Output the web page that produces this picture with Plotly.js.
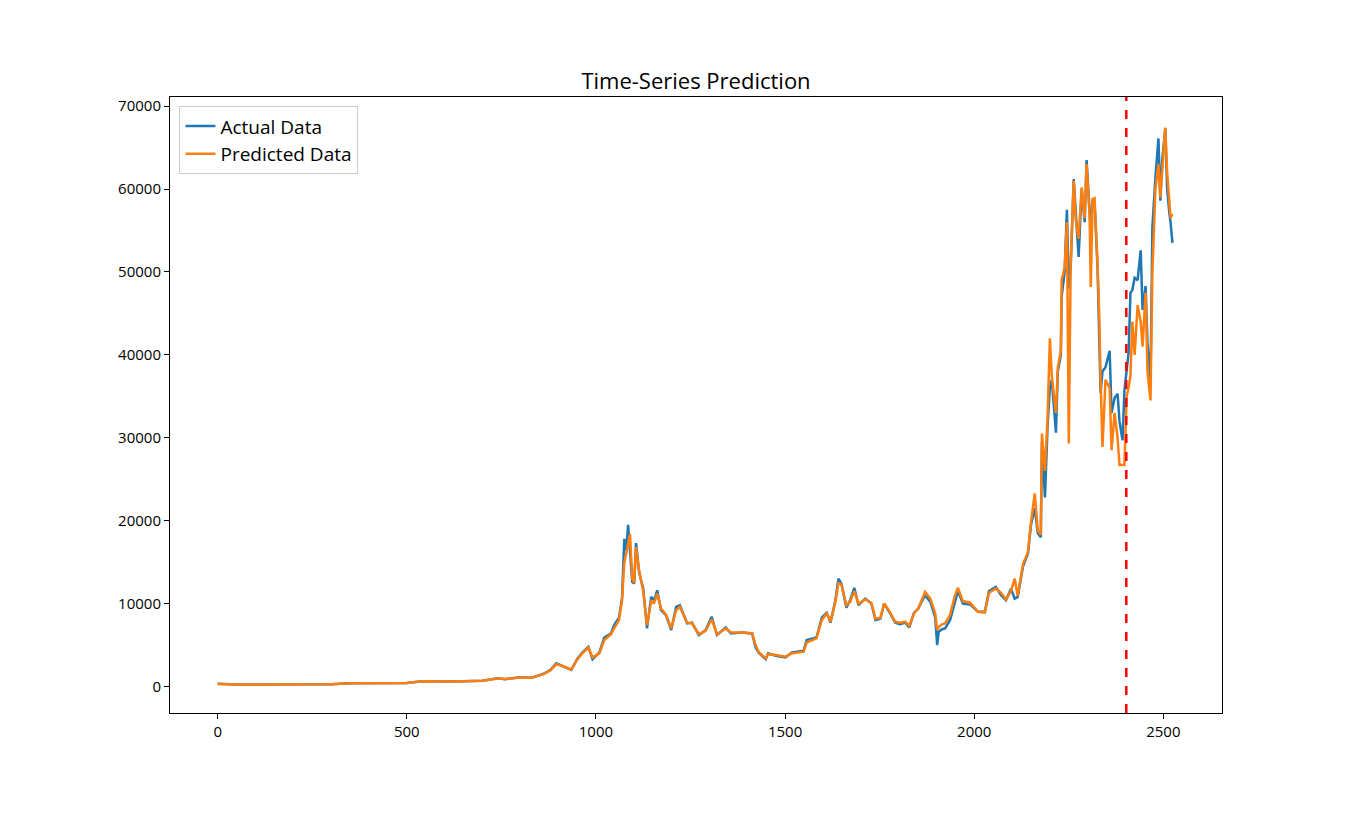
<!DOCTYPE html>
<html>
<head>
<meta charset="utf-8">
<script src="https://cdn.plot.ly/plotly-3.0.1.min.js"></script>
<style>
	html, body {margin:0; padding:0; background:#fff;}
	#plotDiv {width:1358px; height:815px;}
</style>
</head>
<body>
<div id="plotDiv"></div>
<script>
// day index
const dayIdx = [
	0, 25, 50, 100, 150, 200, 250, 300, 350, 400, 450, 500, 540, 560, 600, 650, 700, 740, 760, 800,
	830, 860, 880, 895, 910, 935, 950, 964, 980, 991, 1009, 1022, 1040, 1048, 1061, 1069, 1075, 1080, 1085, 1090,
	1096, 1101, 1106, 1114, 1125, 1135, 1146, 1154, 1162, 1172, 1185, 1199, 1212, 1222, 1241, 1254, 1272, 1290, 1306, 1320,
	1343, 1357, 1386, 1413, 1422, 1431, 1449, 1455, 1475, 1501, 1518, 1549, 1557, 1583, 1597, 1610, 1620, 1633, 1641, 1649,
	1662, 1672, 1683, 1694, 1712, 1728, 1739, 1752, 1762, 1778, 1791, 1804, 1818, 1828, 1841, 1852, 1870, 1884, 1897, 1902,
	1906, 1915, 1923, 1936, 1949, 1957, 1970, 1989, 2010, 2028, 2039, 2057, 2071, 2084, 2097, 2107, 2115, 2129, 2142, 2150, 2160,
	2168, 2176, 2179, 2187, 2194, 2200, 2205, 2216, 2221, 2229, 2231, 2239, 2245, 2250, 2255, 2263, 2268, 2276, 2284, 2292,
	2297, 2305, 2308, 2313, 2318, 2326, 2331, 2334, 2339, 2347, 2358, 2363, 2371, 2379, 2384, 2392, 2397, 2403, 2408, 2413,
	2418, 2424, 2432, 2440, 2445, 2453, 2458, 2466, 2471, 2479, 2487, 2492, 2497, 2505, 2510, 2516, 2519, 2524
]

const actual = [
	320, 260, 230, 240, 245, 250, 240, 280, 400, 420, 410, 430, 640, 600, 600, 640, 700, 980, 880, 1100,
	1050, 1500, 2000, 2800, 2500, 2000, 3300, 4100, 4800, 3300, 4100, 5900, 6400, 7400, 8300, 10700, 17800, 16400, 19500, 16000,
	12600, 12400, 17300, 13800, 11800, 7000, 10800, 10400, 11600, 9200, 8600, 6800, 9600, 9800, 7600, 7700, 6200, 6800, 8400, 6200,
	7100, 6400, 6500, 6400, 4700, 4000, 3300, 4000, 3700, 3500, 4100, 4300, 5600, 5900, 8300, 8900, 7700, 10400, 13000, 12400,
	9500, 10400, 11900, 9800, 10600, 10000, 8000, 8200, 10000, 8800, 7700, 7500, 7700, 7100, 8900, 9400, 11000, 10200, 8300, 5000,
	6600, 6900, 7000, 8000, 10300, 11500, 10000, 9900, 9000, 9000, 11500, 12000, 11000, 10400, 11800, 10600, 10800, 14500, 16000, 19500, 21500,
	18500, 18000, 29500, 22800, 31500, 36000, 37000, 30600, 38000, 40000, 47000, 50000, 57500, 48000, 50500, 61200, 57000, 51800, 60000, 56000,
	63500, 57500, 55000, 58600, 58500, 50500, 39300, 35400, 38000, 38500, 40500, 33000, 34800, 35300, 32000, 29700, 35700, 38000, 40200, 47500,
	47800, 49300, 49000, 52600, 45400, 48300, 41400, 37000, 55400, 61400, 66100, 58600, 63500, 67300, 60000, 57000, 56000, 53500
]

const predicted = [
	310, 265, 235, 240, 245, 250, 240, 280, 400, 420, 410, 430, 630, 600, 600, 640, 700, 960, 890, 1090,
	1060, 1450, 1950, 2700, 2500, 2050, 3200, 4000, 4700, 3500, 4000, 5600, 6300, 7000, 8000, 10400, 15000, 16000, 17000, 18400,
	13000, 12500, 16800, 14000, 11500, 7400, 10300, 10100, 11200, 9400, 8700, 7000, 9200, 9600, 7700, 7600, 6300, 6700, 8100, 6300,
	7000, 6500, 6500, 6400, 5000, 4100, 3400, 3900, 3800, 3600, 4000, 4200, 5300, 5800, 8000, 8800, 7800, 10200, 12500, 12300,
	9800, 10200, 11500, 10000, 10500, 10100, 8200, 8300, 10000, 8900, 7800, 7700, 7800, 7300, 8800, 9400, 11400, 10600, 8800, 6800,
	7200, 7500, 7600, 8600, 11000, 11900, 10300, 10100, 9000, 8900, 11300, 11800, 11300, 10500, 11500, 13000, 10900, 14800, 16200, 19800, 23300,
	18800, 18300, 30500, 26000, 32500, 42000, 37500, 33000, 38500, 40500, 49000, 50500, 56000, 29300, 51000, 61000, 56500, 54000, 60200, 56500,
	63000, 56800, 48200, 58800, 58900, 51000, 44000, 37000, 28900, 37000, 36000, 28500, 33000, 30000, 26700, 26700, 26700, 35000, 36000, 37500,
	44000, 40000, 46000, 44000, 41000, 47500, 38000, 34500, 50000, 60000, 63000, 59000, 62000, 67400, 62000, 58000, 56500, 57000
]

const splitIndex = 2402
const xTicks = [0, 500, 1000, 1500, 2000, 2500]
const yTicks = [0, 10000, 20000, 30000, 40000, 50000, 60000, 70000]

const font = {family: 'Open Sans, DejaVu Sans, sans-serif', size: 15, color: '#000'}

const data = [
	{
		name: 'Actual Data',
		x: dayIdx,
		y: actual,
		type: 'scatter',
		mode: 'lines',
		line: {color: '#1f77b4', width: 2.5}
	},
	{
		name: 'Predicted Data',
		x: dayIdx,
		y: predicted,
		type: 'scatter',
		mode: 'lines',
		line: {color: '#ff7f0e', width: 2.5}
	}
]

const axisStyle = {
	showgrid: false,
	zeroline: false,
	showline: true,
	linecolor: '#000',
	linewidth: 1,
	mirror: true,
	ticks: 'outside',
	ticklen: 5,
	tickwidth: 1,
	tickcolor: '#000',
	tickfont: font
}

const layout = {
	width: 1358,
	height: 815,
	paper_bgcolor: '#fff',
	plot_bgcolor: '#fff',
	font: font,
	margin: {l: 170, r: 136, t: 97, b: 102},
	title: {
		text: 'Time-Series Prediction',
		font: {family: font.family, size: 22, color: '#000'},
		x: 0.5, xref: 'paper', xanchor: 'center',
		y: 1, yref: 'paper', yanchor: 'bottom', pad: {b: 8}
	},
	xaxis: Object.assign({}, axisStyle, {
		range: [-126, 2655],
		tickvals: xTicks,
		ticktext: xTicks.map(String)
	}),
	yaxis: Object.assign({}, axisStyle, {
		range: [-3200, 71100],
		tickvals: yTicks,
		ticktext: yTicks.map(String)
	}),
	shapes: [{
		type: 'line',
		xref: 'x', yref: 'paper',
		x0: splitIndex, x1: splitIndex, y0: 0, y1: 1,
		line: {color: '#ff0000', width: 2.5, dash: 'dash'}
	}],
	legend: {
		x: 0.009, y: 0.985,
		xanchor: 'left', yanchor: 'top',
		bgcolor: 'rgba(255,255,255,0.9)',
		bordercolor: '#cccccc',
		borderwidth: 1,
		font: {family: font.family, size: 19, color: '#000'},
		tracegroupgap: 0
	},
	showlegend: true
}

Plotly.newPlot('plotDiv', data, layout, {displayModeBar: false, staticPlot: true})
</script>
</body>
</html>
